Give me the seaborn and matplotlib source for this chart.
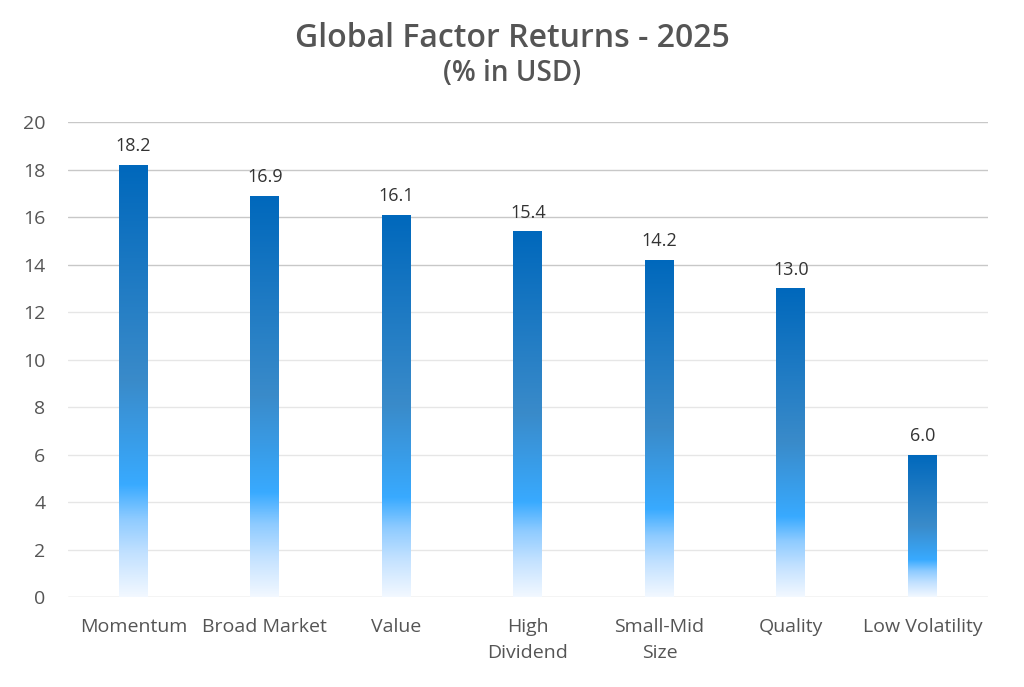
import matplotlib
matplotlib.use("Agg")
import numpy as np
import pandas as pd
import seaborn as sns
import matplotlib.pyplot as plt
from matplotlib.colors import LinearSegmentedColormap

factors = ["Momentum", "Broad Market", "Value", "High\nDividend",
           "Small-Mid\nSize", "Quality", "Low Volatility"]
returns = [18.2, 16.9, 16.1, 15.4, 14.2, 13.0, 6.0]
yticks = [0, 2, 4, 6, 8, 10, 12, 14, 16, 18, 20]

df = pd.DataFrame({"factor": factors, "ret": returns})

sns.set_style("white")
plt.rcParams["font.family"] = ["Open Sans", "DejaVu Sans"]

fig = plt.figure(figsize=(10.24, 6.87), dpi=100)
ax = fig.add_axes([0.066, 0.131, 0.899, 0.691])

sns.barplot(data=df, x="factor", y="ret", width=0.22, ax=ax, zorder=3)

# vertical gradient inside each bar (bottom -> top)
cmap = LinearSegmentedColormap.from_list("bar", [
    (0.0, "#F2F8FF"),
    (0.10, "#C2E1FF"),
    (0.18, "#8ECBFF"),
    (0.26, "#38AAFF"),
    (0.50, "#3A8BCA"),
    (1.0, "#0068BC"),
])
grad = np.linspace(0, 1, 256).reshape(-1, 1)
for p in ax.patches:
    x0, y0 = p.get_x(), p.get_y()
    w, h = p.get_width(), p.get_height()
    p.set_facecolor("none")
    p.set_edgecolor("none")
    im = ax.imshow(grad, cmap=cmap, origin="lower", aspect="auto",
                   extent=[x0, x0 + w, y0, y0 + h], zorder=3)
    im.set_clip_path(p)

for i, v in enumerate(returns):
    ax.annotate(f"{v:.1f}", (i, v), xytext=(0, 7), textcoords="offset points",
                ha="center", va="bottom", fontsize=13, color="#333333")

ax.set_xlim(-0.5, 6.5)
ax.set_ylim(0, 20)
ax.set_yticks(yticks)
ax.grid(axis="y", color="#D0D0D0", linewidth=1, zorder=0)
for k, gl in enumerate(ax.get_ygridlines()):
    gl.set_color("#C8C8C8" if k == 0 or k >= 7 else "#E6E6E6")
for s in ["top", "right", "left", "bottom"]:
    ax.spines[s].set_visible(False)
ax.tick_params(axis="both", length=0, labelsize=14, colors="#555555")
ax.tick_params(axis="x", pad=15)
ax.tick_params(axis="y", pad=16)
for lab in ax.get_xticklabels():
    lab.set_linespacing(1.55)
ax.set_xlabel("")
ax.set_ylabel("")

fig.text(0.5, 0.944, "Global Factor Returns - 2025", ha="center", va="center",
         fontsize=23, fontweight="semibold", color="#555555")
fig.text(0.5, 0.893, "(% in USD)", ha="center", va="center",
         fontsize=20, fontweight="semibold", color="#555555")

fig.savefig("out.png", dpi=100)
